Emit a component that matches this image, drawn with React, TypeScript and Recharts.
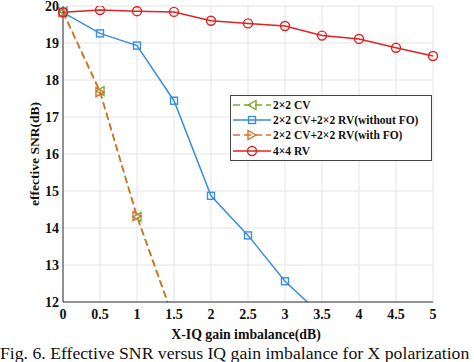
import React from 'react';
import { LineChart, Line, XAxis, YAxis, CartesianGrid } from 'recharts';

const xValues = [0, 0.5, 1, 1.5, 2, 2.5, 3, 3.5, 4, 4.5, 5];
const cv2x2 = [19.85, 17.7, 14.3, 11.5];
const cvRvWithoutFo = [19.83, 19.26, 18.93, 17.44, 14.87, 13.8, 12.56, 11.63];
const cvRvWithFo = [19.83, 17.67, 14.32, 11.53];
const rv4x4 = [19.83, 19.89, 19.86, 19.84, 19.6, 19.53, 19.46, 19.2, 19.11, 18.87, 18.65];
const xTicks = [0, 0.5, 1, 1.5, 2, 2.5, 3, 3.5, 4, 4.5, 5];
const yTicks = [12, 13, 14, 15, 16, 17, 18, 19, 20];

const data = xValues.map((x, i) => ({
  x,
  cv: cv2x2[i],
  noFo: cvRvWithoutFo[i],
  fo: cvRvWithFo[i],
  rv: rv4x4[i],
}));

const GREEN = '#77AC30';
const BLUE = '#3A8EDB';
const ORANGE = '#DE6F2A';
const RED = '#DD2323';
const SERIF = '"Liberation Serif", "Times New Roman", serif';

type Shape = 'left' | 'right' | 'square' | 'circle';

function Marker({ cx, cy, shape, color }: { cx: number; cy: number; shape: Shape; color: string }) {
  if (cx == null || cy == null) return null;
  const sw = 1.4;
  if (shape === 'circle') return <circle cx={cx} cy={cy} r={4.5} fill="none" stroke={color} strokeWidth={sw} />;
  if (shape === 'square') return <rect x={cx - 3.5} y={cy - 3.5} width={7} height={7} fill="none" stroke={color} strokeWidth={sw} />;
  const d = shape === 'left'
    ? `M${cx - 4},${cy} L${cx + 4},${cy - 4.5} L${cx + 4},${cy + 4.5} Z`
    : `M${cx + 4},${cy} L${cx - 4},${cy - 4.5} L${cx - 4},${cy + 4.5} Z`;
  return <path d={d} fill="none" stroke={color} strokeWidth={sw} />;
}

const makeDot = (shape: Shape, color: string) => (p: any) => (
  <Marker key={`${shape}-${p.index}`} cx={p.cx} cy={p.cy} shape={shape} color={color} />
);

const legendItems: { label: string; color: string; dash?: string; shape: Shape }[] = [
  { label: '2×2 CV', color: GREEN, dash: '7 4', shape: 'left' },
  { label: '2×2 CV+2×2 RV(without FO)', color: BLUE, shape: 'square' },
  { label: '2×2 CV+2×2 RV(with FO)', color: ORANGE, dash: '7 4', shape: 'right' },
  { label: '4×4 RV', color: RED, shape: 'circle' },
];

function ChartLegend() {
  return (
    <div style={{ position: 'absolute', left: 230, top: 95, border: '1px solid #444', background: '#fff', width: 200, padding: '1px 0 2px 0' }}>
      {legendItems.map((it) => (
        <div key={it.label} style={{ display: 'flex', alignItems: 'center', height: 15.3 }}>
          <svg width={42} height={14} style={{ flex: 'none' }}>
            <line x1={2} y1={7} x2={40} y2={7} stroke={it.color} strokeWidth={1.5} strokeDasharray={it.dash} />
            <Marker cx={21} cy={7} shape={it.shape} color={it.color} />
          </svg>
          <span style={{ fontFamily: SERIF, fontWeight: 'bold', fontSize: 11.5, color: '#111', whiteSpace: 'nowrap' }}>{it.label}</span>
        </div>
      ))}
    </div>
  );
}

export default function App() {
  const tickStyle = { fontFamily: SERIF, fontWeight: 'bold' as const, fontSize: 14, fill: '#111' };
  return (
    <div style={{ position: 'absolute', left: 0, top: 0, width: 474, height: 362, background: '#fff', overflow: 'hidden' }}>
      <LineChart width={474} height={362} data={data} margin={{ top: 6, right: 41, left: 3, bottom: 0 }}>
        <CartesianGrid stroke="#e3e3e3" strokeWidth={1} yAxisId="l" xAxisId="b" />
        <XAxis xAxisId="b" dataKey="x" type="number" domain={[0, 5]} ticks={xTicks} height={60}
          tickLine={false} tickSize={0} tickMargin={7} tick={tickStyle} axisLine={{ stroke: '#333' }} interval={0} />
        <XAxis xAxisId="t" dataKey="x" type="number" domain={[0, 5]} ticks={xTicks} orientation="top" height={0}
          mirror tickSize={4} tickFormatter={() => ''} axisLine={{ stroke: '#333' }} tickLine={{ stroke: '#333' }} />
        <YAxis yAxisId="l" type="number" domain={[12, 20]} ticks={yTicks} allowDataOverflow width={60}
          tickLine={false} tickSize={0} tickMargin={4} tick={tickStyle} axisLine={{ stroke: '#333' }} interval={0} />
        <YAxis yAxisId="r" type="number" domain={[12, 20]} ticks={yTicks} orientation="right" width={0}
          mirror tickSize={4} tickFormatter={() => ''} axisLine={{ stroke: '#333' }} tickLine={{ stroke: '#333' }} />
        <Line xAxisId="b" yAxisId="l" dataKey="cv" stroke={GREEN} strokeWidth={1.6} strokeDasharray="7 4"
          dot={makeDot('left', GREEN)} isAnimationActive={false} />
        <Line xAxisId="b" yAxisId="l" dataKey="noFo" stroke={BLUE} strokeWidth={1.5}
          dot={makeDot('square', BLUE)} isAnimationActive={false} />
        <Line xAxisId="b" yAxisId="l" dataKey="fo" stroke={ORANGE} strokeWidth={1.6} strokeDasharray="7 4"
          dot={makeDot('right', ORANGE)} isAnimationActive={false} />
        <Line xAxisId="b" yAxisId="l" dataKey="rv" stroke={RED} strokeWidth={1.5}
          dot={makeDot('circle', RED)} isAnimationActive={false} />
      </LineChart>
      <ChartLegend />
      <div style={{ position: 'absolute', left: 35, top: 154, transform: 'translate(-50%, -50%) rotate(-90deg)',
        fontFamily: SERIF, fontWeight: 'bold', fontSize: 13.5, color: '#111', whiteSpace: 'nowrap' }}>
        effective SNR(dB)
      </div>
      <div style={{ position: 'absolute', left: 246, top: 335, transform: 'translate(-50%, -50%)',
        fontFamily: SERIF, fontWeight: 'bold', fontSize: 13.8, color: '#111', whiteSpace: 'nowrap' }}>
        X-IQ gain imbalance(dB)
      </div>
      <div style={{ position: 'absolute', left: 0, top: 343, fontFamily: SERIF, fontSize: 17.7, color: '#111',
        whiteSpace: 'nowrap', lineHeight: '20px' }}>
        Fig. 6. Effective SNR versus IQ gain imbalance for X polarization
      </div>
    </div>
  );
}
